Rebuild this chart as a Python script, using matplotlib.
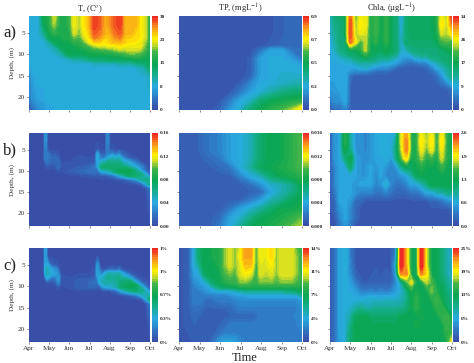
import numpy as np
import matplotlib
matplotlib.use('Agg')
import matplotlib.pyplot as plt
from matplotlib.colors import LinearSegmentedColormap

plt.rcParams['font.family'] = ['Liberation Serif', 'DejaVu Serif']
plt.rcParams['mathtext.fontset'] = 'stix'

months = ['Apr', 'May', 'Jun', 'Jul', 'Aug', 'Sep', 'Oct']
depth_ticks = [5, 10, 15, 20]

t_q = [0, .25, .5, .75, 1, 1.25, 1.5, 1.75, 2, 2.25, 2.5, 2.75, 3, 3.25, 3.5, 3.75, 4, 4.25, 4.5, 4.75, 5, 5.25, 5.5, 5.75, 6]
t_h = [0, .5, 1, 1.5, 2, 2.5, 3, 3.5, 4, 4.5, 5, 5.5, 6]
t_band = [0, .76, .82, .9, 1.1, 1.35, 1.45, 1.55, 2, 2.5, 3, 3.3, 3.4, 3.5, 3.65, 3.8, 3.9, 4, 4.15, 4.3, 4.45, 4.6, 5, 5.3, 5.6, 5.8, 6]

# temperature, C
d_temp_a = [1, 3, 5, 6, 7, 8, 9, 10, 11, 12, 13, 15, 20, 23]
temp_a = [
    [7, 8, 8, 15, 16, 21, 16, 16, 17, 22, 20, 23, 25, 29, 28, 25, 26, 28, 29, 25, 25, 25, 23, 21, 16],
    [7, 8, 8, 14, 16, 20, 16, 16, 17, 22, 20, 23, 25, 29, 28, 25, 26, 28, 29, 25, 25, 25, 23, 21, 16],
    [7, 8, 8, 11, 15, 17, 16, 16, 16, 21, 19, 22, 24, 28, 27, 25, 25, 27, 28, 25, 25, 24, 23, 21, 16],
    [7, 8, 8, 9, 14, 15, 15, 16, 16, 19, 18, 21, 23, 27, 26, 24, 24, 26, 27, 24, 24, 24, 23, 21, 16],
    [7, 8, 8, 8, 10, 14, 15, 15, 15, 17, 17, 19, 22, 24, 24, 23, 24, 25, 25, 24, 23, 23, 22, 20, 16],
    [7, 8, 8, 8, 9, 10, 14, 15, 15, 15, 16, 17, 18, 20, 21, 21, 22, 22, 23, 22, 22, 22, 22, 19, 15],
    [7, 8, 8, 8, 8, 9, 10, 14, 15, 15, 15, 15, 16, 17, 17, 18, 18, 19, 20, 20, 21, 21, 20, 18, 15],
    [7, 8, 8, 8, 8, 8, 9, 11, 14, 14, 14, 14, 15, 15, 15, 15, 15, 16, 16, 17, 18, 18, 18, 16, 15],
    [7, 8, 8, 8, 8, 8, 8, 8, 9, 10, 10, 11, 12, 13, 13, 13, 14, 14, 14, 14, 14, 15, 15, 15, 14],
    [7, 8, 8, 8, 8, 8, 8, 8, 8, 8, 8, 8, 8, 9, 9, 9, 9, 9, 10, 10, 10, 11, 12, 13, 14],
    [6, 8, 8, 8, 8, 8, 8, 8, 8, 8, 8, 8, 8, 8, 8, 8, 8, 8, 8, 8, 8, 8, 9, 10, 13],
    [5, 7, 8, 8, 8, 8, 8, 8, 8, 8, 8, 8, 8, 8, 8, 8, 8, 8, 8, 8, 8, 8, 8, 8, 9],
    [4, 6, 7, 7, 8, 8, 8, 8, 8, 8, 8, 8, 8, 8, 8, 8, 8, 8, 8, 8, 8, 8, 8, 8, 8],
    [1, 3, 5, 6, 7, 7, 8, 8, 8, 8, 8, 8, 8, 8, 8, 8, 8, 8, 8, 8, 8, 8, 8, 8, 8],
]

# TP a, 0.01 mg/L
d_tp_a = [1, 5, 8, 9, 11, 13, 15, 17, 19, 21, 23]
tp_a = [
    [3, 3, 3, 3, 3, 3, 3, 3, 3, 4, 6, 8, 8],
    [3, 3, 3, 3, 3, 3, 3, 3, 3, 4, 6, 8, 8],
    [3, 3, 3, 3, 3, 3, 3, 3, 4, 5, 7, 8, 9],
    [3, 3, 3, 3, 3, 3, 3, 3, 10, 20, 20, 10, 9],
    [3, 3, 3, 3, 3, 3, 3, 5, 20, 23, 23, 19, 10],
    [3, 3, 3, 3, 3, 3, 3, 5, 20, 23, 24, 24, 21],
    [3, 3, 3, 3, 3, 3, 3, 6, 20, 23, 25, 25, 25],
    [3, 3, 3, 3, 3, 3, 5, 15, 22, 24, 26, 28, 30],
    [3, 3, 3, 3, 3, 4, 12, 20, 25, 30, 36, 38, 40],
    [3, 3, 3, 3, 4, 12, 22, 27, 38, 44, 46, 48, 50],
    [3, 3, 3, 3, 7, 18, 25, 38, 46, 50, 54, 60, 72],
]

# Chla a, ug/L
d_chla_a = [1, 3, 5, 7, 9, 10, 11, 12, 13, 14, 15, 18, 21, 23]
chla_a = [
    [9, 14, 15, 16, 31, 20, 25, 25, 17, 20, 16, 19, 16, 14, 7, 14, 16, 16, 16, 16, 16, 18, 25, 22, 33],
    [9, 13, 14, 15, 32, 21, 26, 25, 17, 20, 16, 19, 16, 14, 7, 14, 16, 16, 16, 16, 16, 18, 26, 23, 30],
    [9, 12, 14, 15, 32, 22, 25, 24, 17, 20, 16, 19, 16, 14, 8, 14, 16, 16, 16, 16, 16, 17, 24, 23, 26],
    [8, 11, 14, 14, 31, 25, 20, 23, 17, 19, 16, 19, 16, 14, 9, 14, 15, 15, 15, 15, 15, 16, 20, 21, 20],
    [8, 10, 13, 14, 16, 16, 18, 23, 16, 16, 16, 17, 16, 14, 9, 10, 13, 14, 14, 14, 14, 14, 15, 16, 17],
    [8, 9, 11, 13, 14, 15, 16, 19, 16, 15, 14, 15, 14, 12, 8, 8, 9, 12, 13, 13, 14, 14, 15, 15, 16],
    [8, 9, 9, 10, 11, 13, 14, 15, 14, 13, 12, 12, 11, 9, 7, 6, 6, 8, 9, 9, 12, 13, 14, 15, 15],
    [8, 8, 8, 9, 9, 10, 11, 11, 11, 10, 9, 9, 8, 7, 5, 4, 3, 4, 5, 5, 8, 10, 12, 14, 15],
    [8, 8, 8, 8, 8, 8, 9, 10, 8, 7, 6, 6, 5, 3, 2, 2, 2, 2, 2, 3, 5, 8, 10, 12, 14],
    [8, 8, 8, 8, 6, 5, 5, 5, 4, 3, 3, 3, 2, 2, 2, 2, 2, 2, 2, 2, 3, 5, 8, 11, 13],
    [8, 8, 8, 8, 3, 2, 2, 2, 2, 2, 2, 2, 2, 2, 2, 2, 2, 2, 2, 2, 2, 3, 6, 10, 13],
    [7, 7, 8, 8, 2, 2, 2, 2, 2, 2, 2, 2, 2, 2, 2, 2, 2, 2, 2, 2, 2, 2, 2, 2, 4],
    [4, 6, 6, 8, 2, 2, 2, 2, 2, 2, 2, 2, 2, 2, 2, 2, 2, 2, 2, 2, 2, 2, 2, 2, 2],
    [2, 3, 3, 5, 2, 2, 2, 2, 2, 2, 2, 2, 2, 2, 2, 2, 2, 2, 2, 2, 2, 2, 2, 2, 2],
]

# thin layer panels, row b in 0.001 units, row c in 0.01 %
d_band = [1, 3, 5, 6, 7, 8, 9, 10, 11, 12, 13, 14, 23]
temp_b = [
    [3, 3, 30, 3, 3, 3, 3, 3, 3, 3, 3, 3, 3, 3, 3, 3, 25, 3, 3, 3, 3, 3, 3, 3, 3, 3, 3],
    [3, 3, 28, 3, 3, 3, 3, 3, 3, 3, 3, 3, 3, 3, 3, 3, 25, 3, 3, 3, 3, 3, 3, 3, 3, 3, 3],
    [3, 3, 22, 5, 3, 3, 3, 3, 3, 3, 3, 3, 8, 3, 4, 3, 20, 5, 6, 3, 4, 3, 3, 3, 3, 3, 3],
    [3, 3, 20, 20, 8, 7, 5, 3, 3, 3, 3, 3, 35, 10, 8, 6, 22, 25, 25, 12, 25, 12, 4, 3, 3, 3, 3],
    [3, 3, 22, 22, 15, 14, 8, 3, 3, 5, 4, 5, 40, 25, 20, 25, 35, 42, 48, 42, 48, 30, 8, 4, 3, 3, 3],
    [3, 3, 6, 16, 10, 12, 15, 4, 4, 6, 5, 8, 35, 40, 50, 55, 60, 62, 60, 60, 62, 50, 35, 18, 4, 3, 3],
    [3, 3, 3, 5, 4, 6, 16, 5, 6, 8, 12, 20, 30, 50, 65, 70, 70, 70, 70, 70, 68, 65, 50, 35, 22, 5, 3],
    [3, 3, 3, 3, 3, 3, 5, 3, 8, 12, 18, 20, 10, 25, 40, 40, 45, 50, 60, 70, 75, 78, 80, 60, 30, 12, 5],
    [3, 3, 3, 3, 3, 3, 3, 3, 3, 4, 5, 6, 4, 6, 8, 8, 10, 12, 15, 25, 35, 45, 70, 70, 60, 40, 15],
    [3, 3, 3, 3, 3, 3, 3, 3, 3, 3, 3, 3, 3, 3, 3, 3, 3, 3, 3, 3, 4, 5, 15, 25, 55, 62, 55],
    [3, 3, 3, 3, 3, 3, 3, 3, 3, 3, 3, 3, 3, 3, 3, 3, 3, 3, 3, 3, 3, 3, 3, 4, 10, 35, 60],
    [3, 3, 3, 3, 3, 3, 3, 3, 3, 3, 3, 3, 3, 3, 3, 3, 3, 3, 3, 3, 3, 3, 3, 3, 3, 4, 15],
    [3, 3, 3, 3, 3, 3, 3, 3, 3, 3, 3, 3, 3, 3, 3, 3, 3, 3, 3, 3, 3, 3, 3, 3, 3, 3, 3],
]
temp_c = [
    [2, 2, 30, 2, 2, 2, 2, 2, 2, 2, 2, 2, 2, 2, 2, 2, 2, 2, 2, 2, 2, 2, 2, 2, 2, 2, 2],
    [2, 2, 28, 2, 2, 2, 2, 2, 2, 2, 2, 2, 2, 2, 2, 2, 2, 2, 2, 2, 2, 2, 2, 2, 2, 2, 2],
    [2, 2, 30, 32, 8, 5, 3, 2, 2, 2, 2, 2, 25, 3, 2, 2, 2, 2, 2, 2, 2, 2, 2, 2, 2, 2, 2],
    [2, 2, 35, 40, 30, 22, 8, 2, 2, 2, 2, 5, 28, 8, 3, 3, 5, 8, 10, 5, 12, 4, 2, 2, 2, 2, 2],
    [2, 2, 30, 40, 32, 28, 20, 3, 2, 3, 3, 6, 30, 25, 15, 35, 38, 42, 40, 40, 42, 30, 6, 3, 2, 2, 2],
    [2, 2, 8, 30, 15, 18, 28, 5, 3, 6, 5, 8, 22, 35, 38, 42, 48, 50, 48, 48, 50, 45, 30, 8, 3, 2, 2],
    [2, 2, 2, 4, 4, 6, 22, 5, 5, 8, 10, 15, 10, 30, 42, 45, 44, 42, 42, 45, 50, 55, 58, 30, 8, 4, 2],
    [2, 2, 2, 2, 2, 2, 6, 2, 4, 8, 10, 10, 5, 8, 25, 32, 35, 35, 38, 42, 48, 58, 65, 62, 30, 12, 4],
    [2, 2, 2, 2, 2, 2, 2, 2, 2, 2, 2, 2, 2, 2, 2, 2, 2, 2, 6, 10, 20, 30, 48, 55, 50, 35, 10],
    [2, 2, 2, 2, 2, 2, 2, 2, 2, 2, 2, 2, 2, 2, 2, 2, 2, 2, 2, 2, 2, 3, 8, 15, 35, 42, 45],
    [2, 2, 2, 2, 2, 2, 2, 2, 2, 2, 2, 2, 2, 2, 2, 2, 2, 2, 2, 2, 2, 2, 2, 2, 4, 25, 55],
    [2, 2, 2, 2, 2, 2, 2, 2, 2, 2, 2, 2, 2, 2, 2, 2, 2, 2, 2, 2, 2, 2, 2, 2, 2, 3, 15],
    [2, 2, 2, 2, 2, 2, 2, 2, 2, 2, 2, 2, 2, 2, 2, 2, 2, 2, 2, 2, 2, 2, 2, 2, 2, 2, 2],
]

# TP b, 0.001 mg/L
d_tp_b = [1, 3, 5, 7, 9, 11, 13, 15, 17, 19, 21, 23]
tp_b = [
    [1, 1, 1.2, 2, 2.5, 3.5, 4, 5, 7, 8, 8, 9, 10],
    [1, 1, 1.2, 2, 2.5, 3.5, 4, 5, 7, 8, 8, 9, 10],
    [1, 1, 1.2, 2, 2.5, 3.5, 4, 5, 7, 8, 8, 9, 10],
    [1, 1, 1, 1.5, 2, 3.5, 4, 5, 7, 8, 8, 9, 10],
    [1, 1, 1, 1, 1.5, 2, 4, 5.5, 7.5, 8, 8.5, 9, 10],
    [1, 1, 1, 1, 1, 1, 2.5, 4, 5, 7, 8, 8.5, 9],
    [1, 1, 1, 1, 1, 1, 1, 1.7, 3, 4.5, 5, 6, 8],
    [1, 1, 1, 1, 1, 1, 1, 1, 1.3, 3.5, 5, 6, 7.5],
    [1, 1, 1, 1, 1, 1, 1.2, 2.2, 3.5, 5, 6, 7.5, 8],
    [1, 1, 1, 1, 1, 2, 3.5, 4.5, 5.5, 7, 8, 8, 8.5],
    [1, 1, 1, 1, 1.5, 3.5, 4.5, 6, 7.5, 8, 8.5, 9, 10],
    [1, 1, 1, 1, 2, 4, 5.5, 7.5, 8, 8.5, 9, 10, 11],
]

# Chla b, 0.1 ug/L
chla_b = [
    [1, 5, 6, 14, 8, 5, 5, 4, 5, 6, 7, 7, 6, 7, 18, 22, 14, 14, 19, 17, 19, 14, 19, 14, 13],
    [1, 5, 6, 14, 8, 5, 5, 4, 5, 6, 7, 7, 6, 9, 18, 23, 14, 14, 20, 17, 20, 14, 20, 14, 13],
    [1, 5, 6, 13, 9, 5, 5, 4, 5, 6, 7, 7, 6, 10, 17, 23, 14, 14, 19, 16, 19, 14, 19, 14, 13],
    [1, 5, 6, 10, 13, 6, 5, 5, 5, 6, 6, 7, 5, 9, 15, 20, 13, 14, 17, 14, 15, 13, 18, 14, 13],
    [1, 4, 6, 6, 11, 6, 5, 5, 6, 5, 6, 5, 4, 5, 9, 12, 12, 13, 14, 13, 13, 13, 15, 13, 13],
    [1, 4, 6, 6, 6, 6, 5, 5, 6, 4, 6, 4, 4, 4, 5, 6, 8, 12, 13, 13, 13, 13, 13, 13, 13],
    [1, 4, 6, 6, 6, 5, 6, 6, 6, 4, 5, 7, 4, 3, 3, 4, 6, 6, 8, 10, 13, 13, 13, 13, 13],
    [1, 3, 6, 6, 6, 5, 4, 4, 4, 3, 3, 4, 3, 2, 2, 2, 3, 3, 4, 6, 6, 8, 8, 10, 10],
    [1, 2, 6, 6, 5, 2, 2, 1, 1, 1, 1, 1, 1, 1, 1, 1, 1, 1, 1, 1, 2, 2, 3, 4, 5],
    [1, 2, 5, 6, 4, 2, 1, 1, 1, 1, 1, 1, 1, 1, 1, 1, 1, 1, 1, 1, 1, 1, 1, 1, 2],
    [1, 1, 4, 6, 4, 2, 1, 1, 1, 1, 1, 1, 1, 1, 1, 1, 1, 1, 1, 1, 1, 1, 1, 1, 1],
    [1, 1, 3, 5, 3, 1, 1, 1, 1, 1, 1, 1, 1, 1, 1, 1, 1, 1, 1, 1, 1, 1, 1, 1, 1],
]

# TP c, %
d_tp_c = [1, 3, 5, 7, 9, 10, 11, 12, 13, 15, 17, 19, 21, 23]
tp_c = [
    [.5, .7, .9, 3.5, 6, 7, 7, 7.5, 7.5, 9, 10, 9, 10, 12, 12, 8, 10.5, 10, 11, 9, 10, 10, 10, 8.5, 8],
    [.5, .7, .9, 3.5, 6, 7, 7, 7.5, 7.5, 9, 10, 9, 10.5, 12, 12, 8, 10.5, 10, 11, 9, 10, 10, 10, 9, 8],
    [.5, .7, .9, 3.5, 5, 7, 7, 7, 7.5, 9, 10, 9, 10, 11.5, 11.5, 8, 10, 10, 10.5, 9, 10, 10, 10, 9, 8],
    [.5, .7, .9, 3, 3.5, 6, 7, 7, 7, 8.5, 9, 8.5, 10, 10.5, 10, 8, 10, 9.5, 10, 9, 10, 10, 10, 9, 8],
    [.5, .7, .9, 2.5, 3, 3.5, 5, 6.5, 7, 7.5, 8, 8, 9, 9, 8.5, 8, 9, 9, 9, 8.5, 9, 9, 9, 8.5, 8],
    [.5, .7, .9, 2, 2.5, 3, 3.5, 5, 6, 6.5, 6.5, 7, 7.5, 7.5, 7.5, 7.5, 7.5, 7.5, 7.5, 7.5, 7.5, 7.5, 7.5, 7.5, 7.5],
    [.5, .7, .9, 2, 2, 2.5, 3, 3.2, 3.5, 3.5, 3.5, 4, 4.5, 5, 5, 5, 5, 5, 5, 5, 5, 5.5, 5.5, 6, 6.5],
    [.5, .7, .9, 2, 2, 2, 2, 2.2, 2.2, 2.2, 2.5, 3, 3, 3.2, 3.5, 3.5, 3.5, 3.5, 3.5, 3.5, 3.5, 3.5, 3.5, 3.5, 5],
    [.5, .7, .9, 2, 2, 1.5, 1.2, 1.7, 2, 2, 2, 2.2, 2.5, 2.5, 2.5, 2.5, 2.5, 2.5, 2.5, 2.5, 2.5, 2.5, 2.5, 2.5, 3],
    [.5, .7, .9, 1.5, 1.5, 1, 1, 1, 1, 1, 1.2, 1.6, 2, 2, 2, 2, 2, 2, 2, 2, 2, 2, 2, 2, 2.5],
    [.5, .7, .9, 1.2, 1, 1, 1, 1, 1, 1, 1, 1, 1, 1, 1, 1.2, 2, 2, 2, 2, 2, 2, 2, 2.2, 2.5],
    [.5, .7, .8, 1, 1, 1, 1, 1, 1, 1.2, 1.8, 2, 2, 2, 2, 2, 2, 2, 2, 2, 2, 2, 2, 2, 2.5],
    [.5, .6, .7, .8, .8, .8, 1, 1, 1.5, 2, 2, 2, 2, 2, 2, 2, 2, 2, 2, 2, 2, 2, 2, 2, 2],
    [.5, .6, .6, .7, .7, .7, 1, 1.8, 3, 3.2, 3.2, 3, 2.2, 2, 2, 2, 2, 2, 2, 2, 2, 2, 2, 2, 2],
]

# Chla c, %
chla_c = [
    [1, 2.5, 6, 6.5, 3, 1, 1, 1, 1, 1, 1, 1, 1, 3, 25, 20, 12, 12, 25, 17, 12, 12, 10, 8, 8],
    [1, 2.5, 6, 6.5, 3, 1, 1, 1, 1, 1, 1, 1, 1, 4, 25, 20, 12, 12, 25, 17, 12, 12, 10, 8, 8],
    [1, 2.5, 6, 6.5, 3.5, 1, 1, 1, 1, 1, 1, 1, 1, 6, 25, 20, 12, 12, 25, 17, 12, 12, 10, 8, 8],
    [1, 2.5, 6, 6.5, 4, 1.5, 1, 1, 1, 1.5, 1, 1.5, 1, 5, 22, 22, 12, 12, 22, 19, 12, 12, 10, 8, 8],
    [1, 2.5, 6, 6.5, 5, 3, 1.5, 1, 1.5, 1.5, 1.5, 1.5, 1.5, 4, 8, 14, 18, 12, 12, 17, 15, 12, 11, 9, 8],
    [1, 2.5, 6, 6.5, 6, 5, 3.5, 3, 3.5, 3, 3.5, 3, 3.5, 5, 6.5, 9, 13, 13, 12, 12, 16, 13, 12, 10, 8.5],
    [1, 2.5, 6, 6.5, 6.5, 6.5, 6, 6.5, 7, 7, 6.5, 7, 7, 7, 7.5, 9, 12, 14, 12, 12, 13, 15, 12, 11, 9],
    [1, 2.5, 6, 6.5, 7, 8, 9, 8, 8, 9, 9, 9, 9, 9, 9, 10, 12, 14, 12, 12, 12, 14, 14, 11, 10],
    [1, 2.5, 6, 6.5, 8, 11, 12, 12, 11, 11, 11, 11, 11, 11, 12, 12, 12, 12, 13, 12, 12, 12, 14, 15, 11],
    [1, 2.5, 6, 6.5, 9, 12, 12, 12, 12, 12, 12, 12, 12, 12, 12, 12, 12, 13, 12, 12, 12, 12, 12, 15, 13],
    [1, 2.5, 6, 6.5, 10, 12, 12, 12, 12, 12, 12, 12, 12, 12, 12, 12, 12, 12, 12, 12, 12, 12, 12, 14, 15],
    [1, 2.5, 5, 6.5, 10, 12, 12, 12, 12, 12, 12, 12, 12, 12, 12, 12, 12, 12, 12, 12, 12, 12, 12, 13, 18],
]

titles = ['T, (C$^{o}$)', 'TP, (mgL$^{-1}$)', 'Chla, (\u00b5gL$^{-1}$)']
row_names = ['a)', 'b)', 'c)']

cb_a = [['0', '8', '15', '23', '30'], ['0.0', '0.2', '0.5', '0.7', '0.9'], ['0', '9', '17', '26', '34']]
cb_b = [['0.00', '0.04', '0.08', '0.12', '0.16'], ['0.000', '0.004', '0.008', '0.012', '0.016'], ['0.0', '0.6', '1.3', '1.9', '2.6']]
cb_c = [['0%', '0.3%', '0.7%', '1%', '1%'], ['0%', '4%', '7%', '11%', '14%'], ['0%', '6%', '13%', '19%', '25%']]

# t, depth, values, top of colour scale (same units as values)
panels = [
    [(t_q, d_temp_a, temp_a, 30), (t_h, d_tp_a, tp_a, 90), (t_q, d_chla_a, chla_a, 34)],
    [(t_band, d_band, temp_b, 160), (t_h, d_tp_b, tp_b, 16), (t_q, d_tp_b, chla_b, 26)],
    [(t_band, d_band, temp_c, 133), (t_q, d_tp_c, tp_c, 14), (t_q, d_tp_b, chla_c, 25)],
]
cb_labels = [cb_a, cb_b, cb_c]

cmap = LinearSegmentedColormap.from_list('origin', [
    (0, '#3a4aa4'), (.13, '#2f78c4'), (.25, '#29abe2'), (.38, '#14ad8a'), (.5, '#0aa650'),
    (.62, '#45b549'), (.7, '#cfdc28'), (.76, '#fff200'), (.88, '#f7941d'), (1, '#ed1c24')])

W, H = 474, 363
col_x = [(29, 150, 152, 158), (179, 302, 303, 309), (330, 452, 453, 459)]
row_y = [(16, 110), (133, 226), (248, 342)]
row_label_y = [33, 150, 266]
fig = plt.figure(figsize=(W / 100, H / 100), dpi=100)


def px_axes(x0, x1, y0, y1):
    return fig.add_axes([x0 / W, 1 - y1 / H, (x1 - x0) / W, (y1 - y0) / H])


for r in range(3):
    y0, y1 = row_y[r]
    for c in range(3):
        x0, x1, cx0, cx1 = col_x[c]
        t, d, vals, top = panels[r][c]
        ax = px_axes(x0, x1, y0, y1)
        levels = np.linspace(0, top, 41)
        cs = ax.contourf(t, d, np.array(vals), levels=levels, cmap=cmap)
        cs.set_edgecolor('face')
        ax.set_xlim(0, 6)
        ax.set_ylim(23, 1)
        for s in ax.spines.values():
            s.set_visible(False)
        ax.set_xticks(range(7))
        ax.set_yticks(depth_ticks)
        ax.tick_params(length=1.5, width=.4, pad=1.5, labelsize=5.2, color='#333333', labelcolor='#333333')
        if r == 2:
            ax.set_xticklabels(months)
        else:
            ax.set_xticklabels([])
        if c == 0:
            ax.set_ylabel('Depth, (m)', fontsize=5.2, labelpad=2, color='#333333')
        else:
            ax.set_yticklabels([])
        if r == 0:
            ax.set_title(titles[c], fontsize=6, pad=3, color='#222222')

        cax = px_axes(cx0, cx1, y0, y1)
        cb = fig.colorbar(cs, cax=cax)
        cb.outline.set_visible(False)
        cb.set_ticks(np.linspace(0, top, 5))
        cb.set_ticklabels(cb_labels[r][c], fontsize=3.8, fontweight='bold')
        cb.ax.tick_params(length=0, pad=1.5, labelcolor='#222222')
    fig.text(3 / W, 1 - row_label_y[r] / H, row_names[r], fontsize=12, va='center', color='#222222')

fig.text(245 / W, 1 - 358 / H, 'Time', fontsize=9, ha='center', va='center', color='#222222')
fig.savefig('out.png', dpi=100)
